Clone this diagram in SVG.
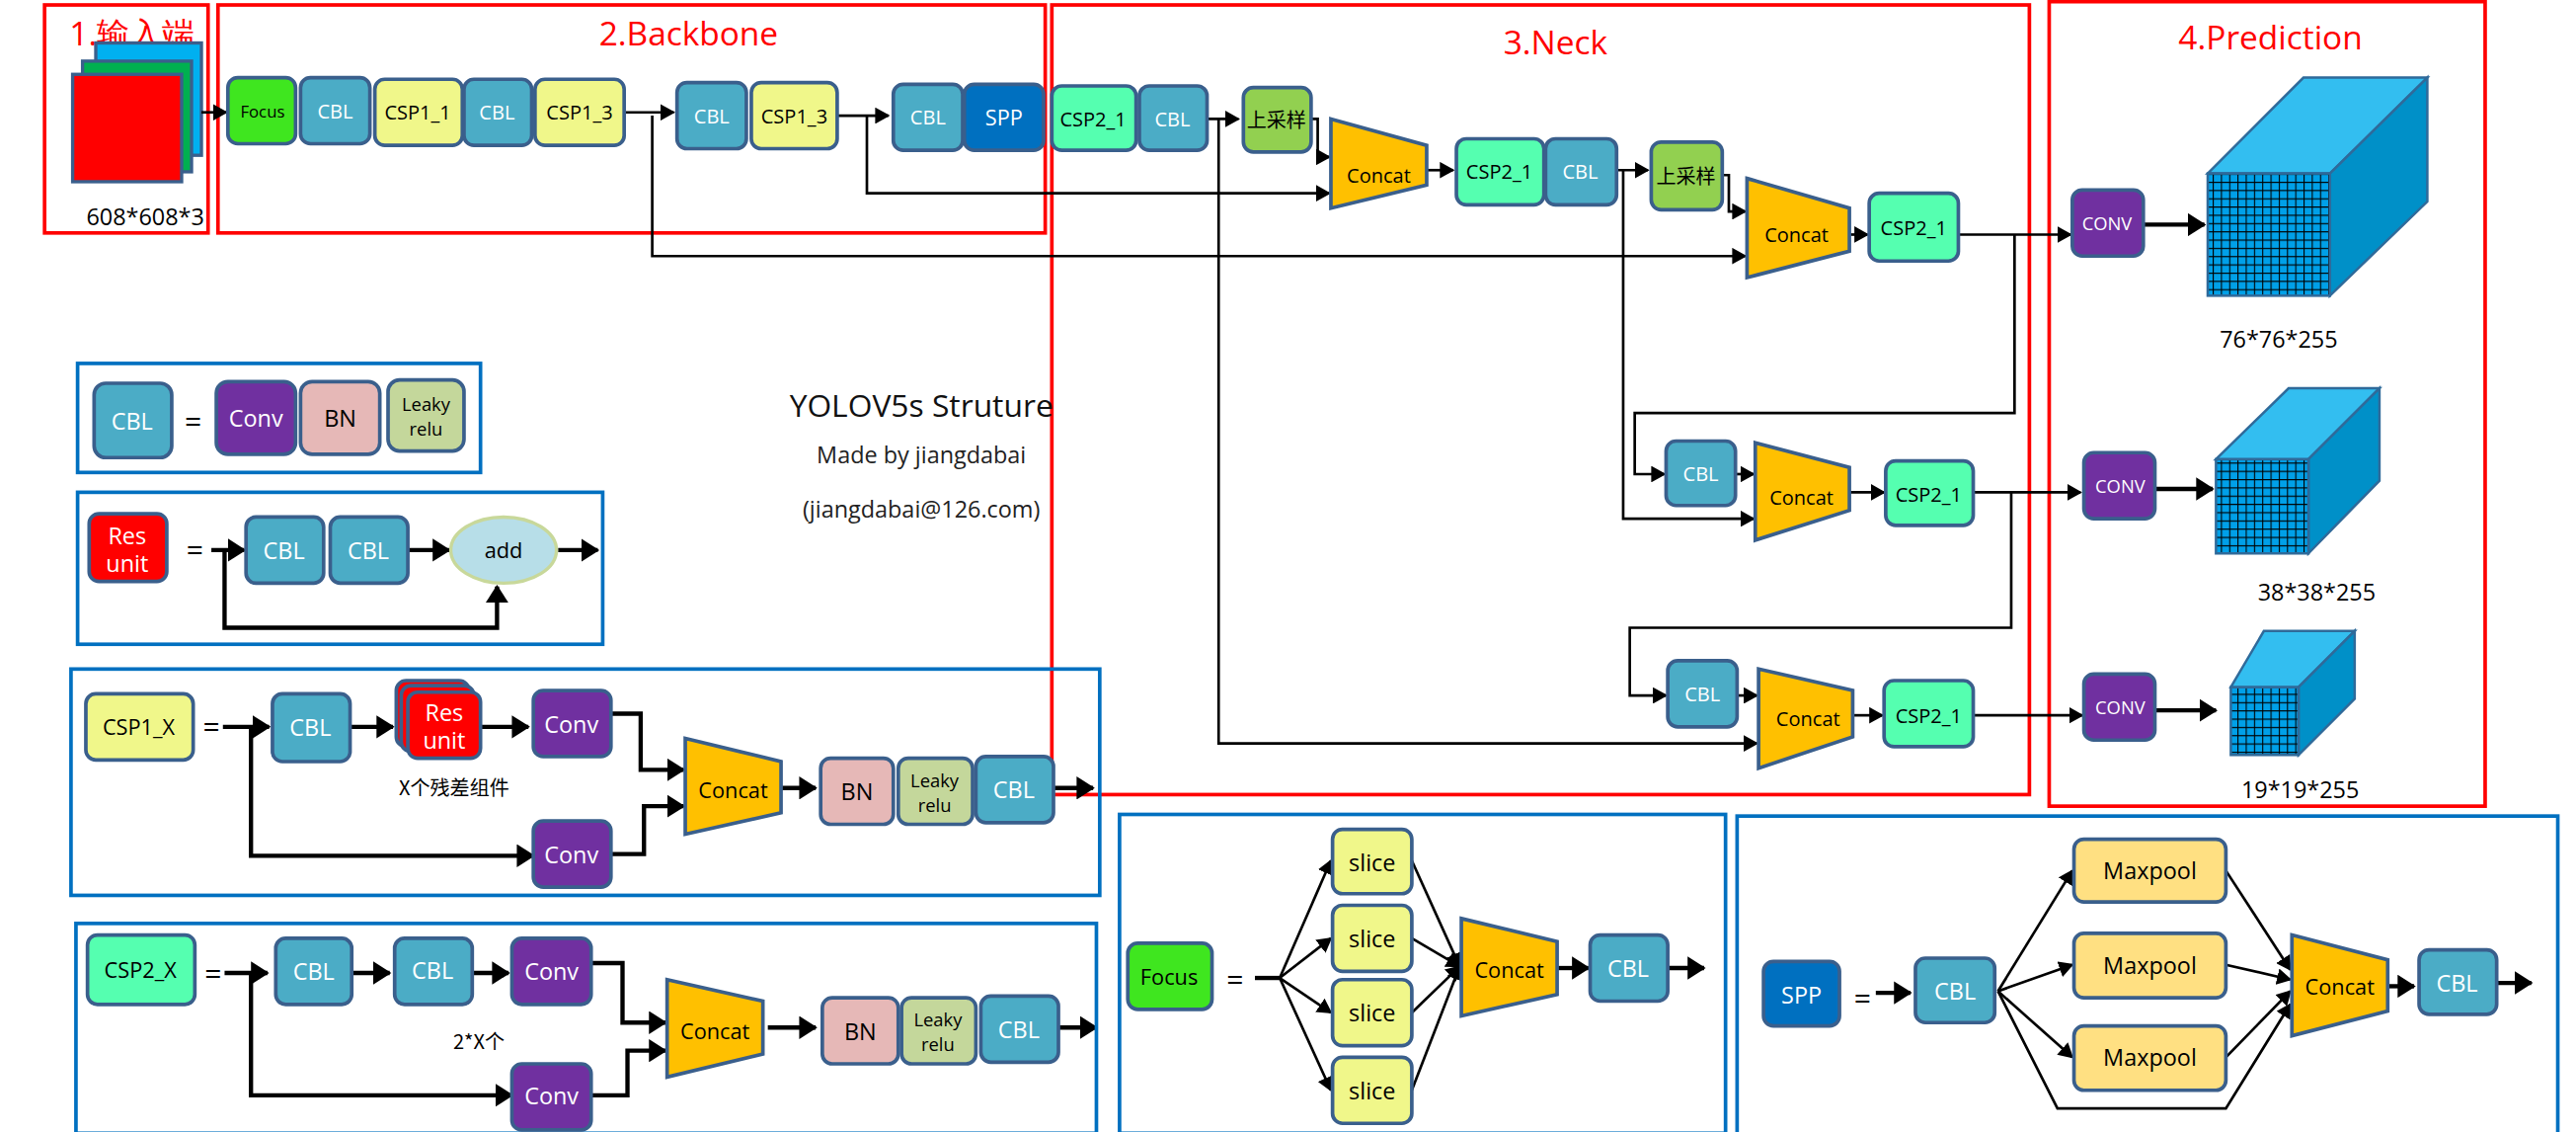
<svg xmlns="http://www.w3.org/2000/svg" width="2609" height="1146" viewBox="0 0 2609 1146">
<style>
text{font-family:"Open Sans","Liberation Sans",sans-serif;text-anchor:middle;dominant-baseline:central}
.n{stroke:#3A5F8C;stroke-width:2.2}
.cbl{fill:#4BACC6}.csp1{fill:#F0F78A}.csp2{fill:#55FFB0}.conv{fill:#7030A0}.bn{fill:#E6B8B7}.lk{fill:#C4D79B}
.focus{fill:#3FE61F}.spp{fill:#0070C0}.up{fill:#92D050}.cc{fill:#FFC000}.mp{fill:#FFE082}.res{fill:#FF0000}
.w{fill:#fff;font-size:14px}.k{fill:#000;font-size:13px}
.rb{fill:none;stroke:#FF0000;stroke-width:2.2}.bb{fill:none;stroke:#0070C0;stroke-width:2.2}
.rt{fill:#FF0000;font-size:20px}
.c{fill:none;stroke:#000;stroke-width:1.6}.t{fill:none;stroke:#000;stroke-width:2.6}
.a{marker-end:url(#ah)}.b{marker-end:url(#ah2)}
</style>
<defs>
<marker id="ah" markerWidth="10" markerHeight="10" refX="8" refY="5" orient="auto" markerUnits="userSpaceOnUse"><path d="M0,0L9,5L0,10z" fill="#000"/></marker>
<marker id="ah2" markerWidth="12" markerHeight="14" refX="10" refY="7" orient="auto" markerUnits="userSpaceOnUse"><path d="M0,0L11,7L0,14z" fill="#000"/></marker>
<pattern id="grid" width="5" height="5" patternUnits="userSpaceOnUse"><rect width="5" height="5" fill="#00A0E8"/><path d="M0,0H5M0,0V5" stroke="#000" stroke-width="1.3"/></pattern>
</defs>
<rect width="2609" height="1146" fill="#fff"/>
<g transform="scale(1.6724)">
<!-- section boxes -->
<g id="sections">
<rect class="rb" x="27" y="3" width="99" height="138"/><text class="rt" x="80" y="20">1.输入端</text>
<rect class="rb" x="132" y="3" width="501" height="138"/><text class="rt" x="417" y="20">2.Backbone</text>
<rect class="rb" x="637" y="3" width="592" height="478"/><text class="rt" x="942" y="25">3.Neck</text>
<rect class="rb" x="1241" y="1" width="264" height="487"/><text class="rt" x="1375" y="22">4.Prediction</text>
</g>
<g id="input">
<rect x="58" y="26" width="64" height="68" fill="#00B0F0" stroke="#3A5F8C" stroke-width="2"/>
<rect x="50" y="37" width="66" height="67" fill="#00B050" stroke="#3A5F8C" stroke-width="2"/>
<rect x="44" y="45" width="66" height="65" fill="#FF0000" stroke="#3A5F8C" stroke-width="2"/>
<text x="88" y="131" class="k" style="font-size:14px">608*608*3</text>
</g>
<!-- connectors -->
<g id="connectors">
<path class="c a" d="M122,68H137"/>
<path class="c a" d="M378,68H408"/>
<path class="c a" d="M507,70H538"/>
<path class="c a" d="M731,72H750"/>
<path class="c a" d="M794,72H798V95H805"/>
<path class="c a" d="M864,103H880"/>
<path class="c a" d="M979,103H998"/>
<path class="c a" d="M1043,106H1047V128H1057"/>
<path class="c a" d="M1120,142H1131"/>
<path class="c a" d="M1186,142H1254"/>
<path class="t b" d="M1298,136H1335"/>
<path class="c a" d="M395,70V155H1057"/>
<path class="c a" d="M525,70V117H805"/>
<path class="c a" d="M738,72V450H1064"/>
<path class="c a" d="M983,103V314H1062"/>
<path class="c a" d="M1220,142V250H990V287H1008"/>
<path class="c a" d="M1051,287H1062"/>
<path class="c a" d="M1120,298H1141"/>
<path class="c a" d="M1195,298H1260"/>
<path class="t b" d="M1305,296H1340"/>
<path class="c a" d="M1218,298V380H987V421H1009"/>
<path class="c a" d="M1052,421H1064"/>
<path class="c a" d="M1122,433H1140"/>
<path class="c a" d="M1195,433H1261"/>
<path class="t b" d="M1305,430H1342"/>
<!-- legend connectors -->
<path class="t b" d="M128,333H148"/>
<path class="t b" d="M247,333H272"/>
<path class="t b" d="M338,333H362"/>
<path class="t b" d="M136,333V380H301V355"/>
<path class="t b" d="M135,440H163"/>
<path class="t b" d="M152,440V518H323"/>
<path class="t b" d="M212,440H238"/>
<path class="t b" d="M290,440H320"/>
<path class="t b" d="M370,432H388V466H414"/>
<path class="t b" d="M370,517H390V488H414"/>
<path class="t b" d="M473,477H494"/>
<path class="t b" d="M638,477H662"/>
<path class="t b" d="M136,589H162"/>
<path class="t b" d="M152,589V663H310"/>
<path class="t b" d="M213,589H236"/>
<path class="t b" d="M286,589H308"/>
<path class="t b" d="M358,583H377V619H403"/>
<path class="t b" d="M358,663H380V636H403"/>
<path class="t b" d="M465,622H494"/>
<path class="t b" d="M641,622H664"/>
<path class="t" d="M760,592H775"/>
<path class="c a" d="M775,592L806,521"/>
<path class="c a" d="M775,592L806,568"/>
<path class="c a" d="M775,592L806,613"/>
<path class="c a" d="M775,592L806,660"/>
<path class="c a" d="M855,521L884,585"/>
<path class="c a" d="M855,568L884,585"/>
<path class="c a" d="M855,613L884,585"/>
<path class="c a" d="M855,660L884,585"/>
<path class="t b" d="M943,586H962"/>
<path class="t b" d="M1010,586H1032"/>
<path class="t b" d="M1136,601H1157"/>
<path class="c a" d="M1210,600L1255,527"/>
<path class="c a" d="M1210,600L1255,584"/>
<path class="c a" d="M1210,600L1255,640"/>
<path class="c a" d="M1348,527L1387,587"/>
<path class="c a" d="M1348,584L1387,593"/>
<path class="c a" d="M1348,640L1387,600"/>
<path class="c a" d="M1210,600L1246,671H1348L1387,608"/>
<path class="t b" d="M1446,597H1462"/>
<path class="t b" d="M1512,595H1533"/>
</g>
<!-- backbone nodes -->
<g id="focus"><rect class="n focus" x="138" y="47" width="41" height="40" rx="6"/><text class="k" x="159" y="67" style="font-size:10px">Focus</text></g>
<g id="cbl1"><rect class="n cbl" x="182" y="47" width="42" height="40" rx="6"/><text class="w" x="203" y="67" style="font-size:12px">CBL</text></g>
<g id="csp1_1"><rect class="n csp1" x="227" y="48" width="53" height="40" rx="6"/><text class="k" x="253" y="68" style="font-size:12px">CSP1_1</text></g>
<g id="cbl2"><rect class="n cbl" x="281" y="48" width="41" height="40" rx="6"/><text class="w" x="301" y="68" style="font-size:12px">CBL</text></g>
<g id="csp1_3a"><rect class="n csp1" x="324" y="48" width="54" height="40" rx="6"/><text class="k" x="351" y="68" style="font-size:12px">CSP1_3</text></g>
<g id="cbl3"><rect class="n cbl" x="410" y="50" width="42" height="40" rx="6"/><text class="w" x="431" y="70" style="font-size:12px">CBL</text></g>
<g id="csp1_3b"><rect class="n csp1" x="455" y="50" width="52" height="40" rx="6"/><text class="k" x="481" y="70" style="font-size:12px">CSP1_3</text></g>
<g id="cbl4"><rect class="n cbl" x="541" y="51" width="42" height="40" rx="6"/><text class="w" x="562" y="71" style="font-size:12px">CBL</text></g>
<g id="spp"><rect class="n spp" x="584" y="51" width="48" height="40" rx="6"/><text class="w" x="608" y="71" style="font-size:13px">SPP</text></g>
<!-- neck -->
<g id="csp2a"><rect class="n csp2" x="637" y="52" width="51" height="39" rx="6"/><text class="k" x="662" y="72" style="font-size:12px">CSP2_1</text></g>
<g id="cbl5"><rect class="n cbl" x="690" y="52" width="41" height="39" rx="6"/><text class="w" x="710" y="72" style="font-size:12px">CBL</text></g>
<g id="up1"><rect class="n up" x="753" y="53" width="41" height="39" rx="6"/><text class="k" x="773" y="72" style="font-size:12px;font-family:'Noto Sans CJK SC',serif">上采样</text></g>
<g id="concat1"><path class="n cc" d="M806,72L864,88V112L806,126Z"/><text class="k" x="835" y="106" style="font-size:12px">Concat</text></g>
<g id="csp2b"><rect class="n csp2" x="882" y="84" width="53" height="40" rx="6"/><text class="k" x="908" y="104" style="font-size:12px">CSP2_1</text></g>
<g id="cbl6"><rect class="n cbl" x="936" y="84" width="43" height="40" rx="6"/><text class="w" x="957" y="104" style="font-size:12px">CBL</text></g>
<g id="up2"><rect class="n up" x="1000" y="86" width="43" height="41" rx="6"/><text class="k" x="1021" y="106" style="font-size:12px;font-family:'Noto Sans CJK SC',serif">上采样</text></g>
<g id="concat2"><path class="n cc" d="M1058,108L1120,126V152L1058,168Z"/><text class="k" x="1088" y="142" style="font-size:12px">Concat</text></g>
<g id="csp2c"><rect class="n csp2" x="1132" y="117" width="54" height="41" rx="6"/><text class="k" x="1159" y="138" style="font-size:12px">CSP2_1</text></g>
<g id="cbl7"><rect class="n cbl" x="1009" y="267" width="42" height="39" rx="6"/><text class="w" x="1030" y="287" style="font-size:12px">CBL</text></g>
<g id="concat3"><path class="n cc" d="M1063,268L1120,283V309L1063,327Z"/><text class="k" x="1091" y="301" style="font-size:12px">Concat</text></g>
<g id="csp2d"><rect class="n csp2" x="1142" y="279" width="53" height="39" rx="6"/><text class="k" x="1168" y="299" style="font-size:12px">CSP2_1</text></g>
<g id="cbl8"><rect class="n cbl" x="1010" y="400" width="42" height="40" rx="6"/><text class="w" x="1031" y="420" style="font-size:12px">CBL</text></g>
<g id="concat4"><path class="n cc" d="M1065,405L1122,418V446L1065,465Z"/><text class="k" x="1095" y="435" style="font-size:12px">Concat</text></g>
<g id="csp2e"><rect class="n csp2" x="1141" y="412" width="54" height="40" rx="6"/><text class="k" x="1168" y="433" style="font-size:12px">CSP2_1</text></g>
<!-- prediction -->
<g id="conv1"><rect class="n conv" x="1255" y="115" width="43" height="40" rx="6"/><text class="w" x="1276" y="135" style="font-size:11px">CONV</text></g>
<g id="conv2"><rect class="n conv" x="1262" y="274" width="43" height="40" rx="6"/><text class="w" x="1284" y="294" style="font-size:11px">CONV</text></g>
<g id="conv3"><rect class="n conv" x="1262" y="408" width="43" height="40" rx="6"/><text class="w" x="1284" y="428" style="font-size:11px">CONV</text></g>
<g id="cube1">
<path d="M1337,105L1395,47H1470L1411,105Z" fill="#33BEF0" stroke="#2F6A9A" stroke-width="1.5"/>
<path d="M1411,105L1470,47V122L1411,179Z" fill="#0090C8" stroke="#2F6A9A" stroke-width="1.5"/>
<rect x="1337" y="105" width="74" height="74" fill="url(#grid)" stroke="#2F6A9A" stroke-width="1.5"/>
<text class="k" x="1380" y="205" style="font-size:14px">76*76*255</text>
</g>
<g id="cube2">
<path d="M1342,278L1386,235H1441L1398,278Z" fill="#33BEF0" stroke="#2F6A9A" stroke-width="1.5"/>
<path d="M1398,278L1441,235V291L1398,335Z" fill="#0090C8" stroke="#2F6A9A" stroke-width="1.5"/>
<rect x="1342" y="278" width="56" height="57" fill="url(#grid)" stroke="#2F6A9A" stroke-width="1.5"/>
<text class="k" x="1403" y="358" style="font-size:14px">38*38*255</text>
</g>
<g id="cube3">
<path d="M1351,416L1371,382H1426L1392,416Z" fill="#33BEF0" stroke="#2F6A9A" stroke-width="1.5"/>
<path d="M1392,416L1426,382V423L1392,457Z" fill="#0090C8" stroke="#2F6A9A" stroke-width="1.5"/>
<rect x="1351" y="416" width="41" height="41" fill="url(#grid)" stroke="#2F6A9A" stroke-width="1.5"/>
<text class="k" x="1393" y="478" style="font-size:14px">19*19*255</text>
</g>
<!-- title -->
<g id="title">
<text class="k" x="558" y="245" style="font-size:19px;fill:#111">YOLOV5s Struture</text>
<text class="k" x="558" y="275" style="font-size:14px;fill:#222">Made by jiangdabai</text>
<text class="k" x="558" y="308" style="font-size:14px;fill:#222">(jiangdabai@126.com)</text>
</g>
<!-- legend A -->
<g id="legendCBL">
<rect class="bb" x="47" y="220" width="244" height="66"/>
<rect class="n cbl" x="57" y="232" width="47" height="45" rx="7"/><text class="w" x="80" y="255">CBL</text>
<text class="k" x="117" y="255" style="font-size:18px">=</text>
<rect class="n conv" x="131" y="231" width="48" height="44" rx="7"/><text class="w" x="155" y="253">Conv</text>
<rect class="n bn" x="182" y="231" width="48" height="44" rx="7"/><text class="k" x="206" y="253" style="font-size:14px">BN</text>
<rect class="n lk" x="235" y="230" width="46" height="43" rx="7"/><text class="k" x="258" y="244" style="font-size:11px">Leaky</text><text class="k" x="258" y="259" style="font-size:11px">relu</text>
</g>
<g id="legendRes">
<rect class="bb" x="47" y="298" width="318" height="92"/>
<rect class="n res" x="54" y="311" width="47" height="41" rx="6"/><text class="w" x="77" y="324">Res</text><text class="w" x="77" y="341">unit</text>
<text class="k" x="118" y="333" style="font-size:18px">=</text>
<rect class="n cbl" x="149" y="313" width="47" height="40" rx="6"/><text class="w" x="172" y="333">CBL</text>
<rect class="n cbl" x="200" y="313" width="47" height="40" rx="6"/><text class="w" x="223" y="333">CBL</text>
<ellipse cx="305" cy="333" rx="32" ry="20" fill="#B7DEE8" stroke="#C8D89A" stroke-width="2"/><text class="k" x="305" y="333">add</text>
</g>
<g id="legendCSP1">
<rect class="bb" x="43" y="405" width="623" height="137"/>
<rect class="n csp1" x="52" y="420" width="65" height="40" rx="6"/><text class="k" x="84" y="440">CSP1_X</text>
<text class="k" x="128" y="440" style="font-size:18px">=</text>
<rect class="n cbl" x="165" y="420" width="47" height="41" rx="6"/><text class="w" x="188" y="440">CBL</text>
<rect class="n res" x="240" y="412" width="44" height="40" rx="6"/>
<rect class="n res" x="243" y="415" width="44" height="40" rx="6"/>
<rect class="n res" x="247" y="419" width="44" height="40" rx="6"/><text class="w" x="269" y="431">Res</text><text class="w" x="269" y="448">unit</text>
<text class="k" x="275" y="476" style="font-family:'Noto Sans CJK SC',sans-serif;font-size:12px">X个残差组件</text>
<rect class="n conv" x="323" y="418" width="47" height="40" rx="6"/><text class="w" x="346" y="438">Conv</text>
<rect class="n conv" x="323" y="497" width="47" height="40" rx="6"/><text class="w" x="346" y="517">Conv</text>
<path class="n cc" d="M415,447L473,461V492L415,505Z"/><text class="k" x="444" y="478">Concat</text>
<rect class="n bn" x="497" y="459" width="44" height="40" rx="6"/><text class="k" x="519" y="479" style="font-size:14px">BN</text>
<rect class="n lk" x="544" y="459" width="45" height="40" rx="6"/><text class="k" x="566" y="472" style="font-size:11px">Leaky</text><text class="k" x="566" y="487" style="font-size:11px">relu</text>
<rect class="n cbl" x="591" y="458" width="47" height="40" rx="6"/><text class="w" x="614" y="478">CBL</text>
</g>
<g id="legendCSP2">
<rect class="bb" x="46" y="559" width="618" height="127"/>
<rect class="n csp2" x="53" y="566" width="65" height="42" rx="6"/><text class="k" x="85" y="587">CSP2_X</text>
<text class="k" x="129" y="589" style="font-size:18px">=</text>
<rect class="n cbl" x="167" y="568" width="46" height="40" rx="6"/><text class="w" x="190" y="588">CBL</text>
<rect class="n cbl" x="239" y="568" width="47" height="40" rx="6"/><text class="w" x="262" y="587">CBL</text>
<rect class="n conv" x="310" y="568" width="48" height="40" rx="6"/><text class="w" x="334" y="588">Conv</text>
<text class="k" x="290" y="630" style="font-family:'Noto Sans CJK SC',sans-serif;font-size:12px">2*X个</text>
<rect class="n conv" x="310" y="644" width="48" height="40" rx="6"/><text class="w" x="334" y="663">Conv</text>
<path class="n cc" d="M404,593L462,606V638L404,652Z"/><text class="k" x="433" y="624">Concat</text>
<rect class="n bn" x="498" y="604" width="46" height="40" rx="6"/><text class="k" x="521" y="624" style="font-size:14px">BN</text>
<rect class="n lk" x="546" y="604" width="45" height="40" rx="6"/><text class="k" x="568" y="617" style="font-size:11px">Leaky</text><text class="k" x="568" y="632" style="font-size:11px">relu</text>
<rect class="n cbl" x="594" y="603" width="47" height="40" rx="6"/><text class="w" x="617" y="623">CBL</text>
</g>
<g id="legendFocus">
<rect class="bb" x="678" y="493" width="367" height="193"/>
<rect class="n focus" x="683" y="571" width="51" height="40" rx="6"/><text class="k" x="708" y="591">Focus</text>
<text class="k" x="748" y="593" style="font-size:18px">=</text>
<rect class="n csp1" x="807" y="502" width="48" height="39" rx="6"/><text class="k" x="831" y="522" style="font-size:14px">slice</text>
<rect class="n csp1" x="807" y="548" width="48" height="40" rx="6"/><text class="k" x="831" y="568" style="font-size:14px">slice</text>
<rect class="n csp1" x="807" y="593" width="48" height="40" rx="6"/><text class="k" x="831" y="613" style="font-size:14px">slice</text>
<rect class="n csp1" x="807" y="640" width="48" height="40" rx="6"/><text class="k" x="831" y="660" style="font-size:14px">slice</text>
<path class="n cc" d="M885,556L943,570V602L885,615Z"/><text class="k" x="914" y="587">Concat</text>
<rect class="n cbl" x="963" y="566" width="47" height="40" rx="6"/><text class="w" x="986" y="586">CBL</text>
</g>
<g id="legendSPP">
<rect class="bb" x="1052" y="494" width="497" height="193"/>
<rect class="n spp" x="1068" y="582" width="46" height="39" rx="6"/><text class="w" x="1091" y="602">SPP</text>
<text class="k" x="1128" y="604" style="font-size:18px">=</text>
<rect class="n cbl" x="1160" y="580" width="48" height="39" rx="6"/><text class="w" x="1184" y="600">CBL</text>
<rect class="n mp" x="1256" y="508" width="92" height="38" rx="6"/><text class="k" x="1302" y="527" style="font-size:14px">Maxpool</text>
<rect class="n mp" x="1256" y="565" width="92" height="39" rx="6"/><text class="k" x="1302" y="584" style="font-size:14px">Maxpool</text>
<rect class="n mp" x="1256" y="621" width="92" height="39" rx="6"/><text class="k" x="1302" y="640" style="font-size:14px">Maxpool</text>
<path class="n cc" d="M1388,566L1446,581V612L1388,627Z"/><text class="k" x="1417" y="597">Concat</text>
<rect class="n cbl" x="1465" y="575" width="47" height="39" rx="6"/><text class="w" x="1488" y="595">CBL</text>
</g>
</g>
</svg>
